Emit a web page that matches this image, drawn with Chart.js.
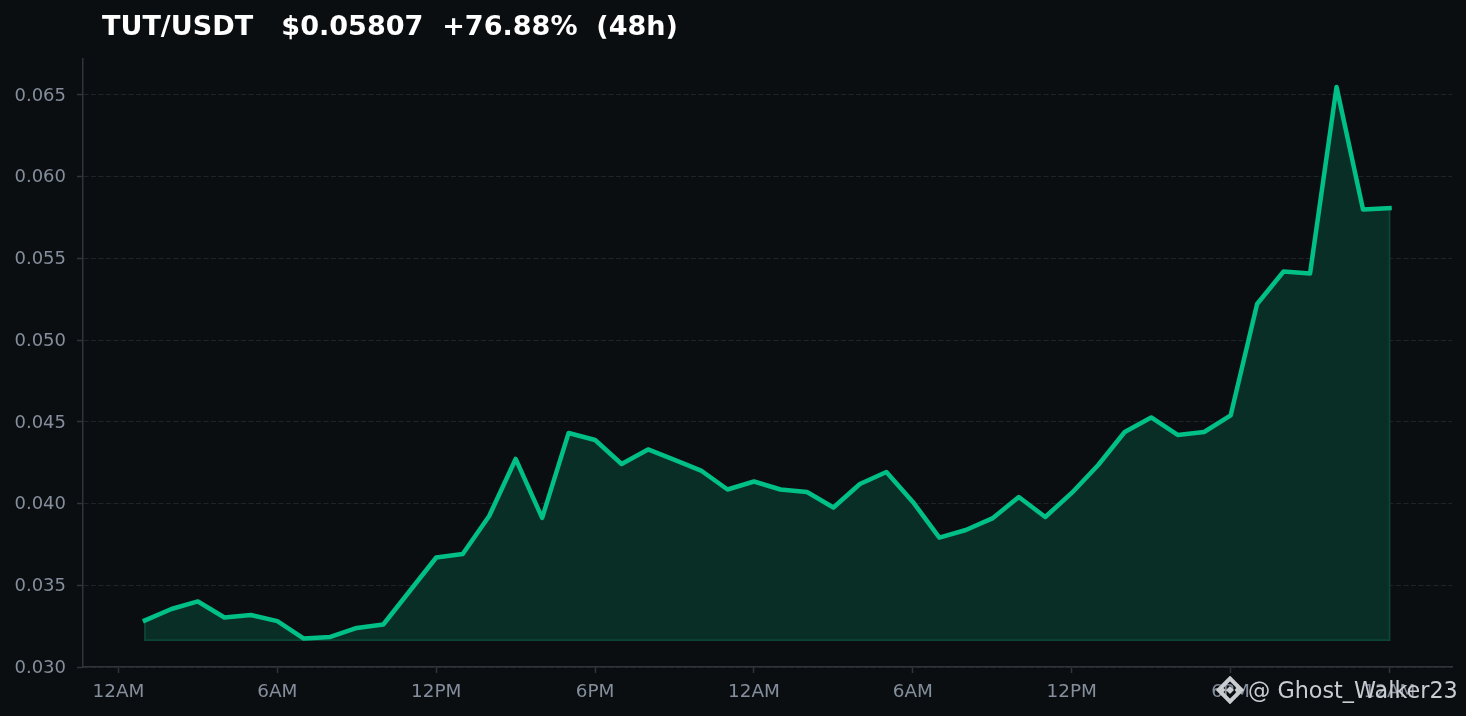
<!DOCTYPE html>
<html>
<head>
<meta charset="utf-8">
<script src="https://cdn.jsdelivr.net/npm/chart.js@4/dist/chart.umd.min.js"></script>
<style>
  html, body { margin: 0; padding: 0; background: #0b0e11; overflow: hidden; }
  #wrap { position: relative; width: 1466px; height: 716px; }
  #title { position: absolute; left: 102px; top: 9px; color: #fff; white-space: pre;
           font: bold 27.05px "DejaVu Sans"; line-height: 34px; }
  #mark { position: absolute; left: 1216px; top: 675px; color: #c9cdd1; white-space: pre;
          font: 22.3px "DejaVu Sans"; line-height: 30px; display: flex; align-items: center; }
  #mark svg { margin-right: 4px; }
</style>
</head>
<body>
<div id="wrap">
  <canvas id="chart" width="1466" height="716"></canvas>
  <div id="title">TUT/USDT   $0.05807  +76.88%  (48h)</div>
  <div id="mark"><svg width="28" height="28" viewBox="0 0 28 28"><path d="M14 2.5 L25.5 14 L14 25.5 L2.5 14 Z" fill="none" stroke="#c9cdd1" stroke-width="4"/><g fill="#c9cdd1"><path d="M14 10 L18 14 L14 18 L10 14 Z"/><path d="M7 11.5 L9.5 14 L7 16.5 L4.5 14 Z"/><path d="M21 11.5 L23.5 14 L21 16.5 L18.5 14 Z"/></g></svg>@ Ghost_Walker23</div>
</div>
<script>
const hours = [1,2,3,4,5,6,7,8,9,10,11,12,13,14,15,16,17,18,19,20,21,22,23,24,
  25,26,27,28,29,30,31,32,33,34,35,36,37,38,39,40,41,42,43,44,45,46,47,48]
const prices = [.03285,.03355,.03401,.03303,.03318,.03281,.03174,.03184,.03239,.0326,.03465,.0367,
  .03691,.03924,.04273,.03912,.04432,.04389,.04242,.04331,.04267,.04202,.04086,.04135,
  .04086,.04071,.03976,.0412,.04193,.0401,.03792,.03838,.03909,.0404,.03918,.04065,
  .04236,.04438,.04527,.0442,.04438,.04539,.05221,.0542,.05408,.06549,.05799,.05807]
const xTickLabels = ['12AM','6AM','12PM','6PM','12AM','6AM','12PM','6PM','12AM']
const floorPrice = 0.03165

const line = hours.map((h, i) => ({x: h, y: prices[i]}))
const first = line[0], last = line[line.length - 1]
// edge of the filled area: left side, bottom, right side
const edge = [first, {x: first.x, y: floorPrice}, {x: last.x, y: floorPrice}, last]

const ctx = document.getElementById('chart').getContext('2d')
new Chart(ctx, {
  type: 'line',
  data: {
    datasets: [{
      // area only
      data: line,
      borderWidth: 0,
      backgroundColor: '#092e26',
      fill: {value: floorPrice},
      pointRadius: 0,
      tension: 0,
      order: 2
    }, {
      data: edge,
      borderColor: '#0d4535',
      borderWidth: 1.8,
      pointRadius: 0,
      tension: 0,
      fill: false,
      order: 1
    }, {
      data: line,
      borderColor: '#00c087',
      borderWidth: 4.5,
      borderCapStyle: 'square',
      borderJoinStyle: 'round',
      fill: false,
      pointRadius: 0,
      tension: 0,
      clip: false,
      order: 0
    }]
  },
  options: {
    responsive: false,
    devicePixelRatio: 1,
    animation: false,
    layout: {padding: {top: 59, right: 14, left: 0, bottom: 0}},
    plugins: {legend: {display: false}, tooltip: {enabled: false}},
    scales: {
      x: {
        type: 'linear',
        min: -1.34,
        max: 50.36,
        afterFit: s => { s.height = 49 },
        border: {color: '#30353b', width: 1.5},
        grid: {drawOnChartArea: false, tickColor: '#30353b', tickLength: 6, tickWidth: 1.5},
        ticks: {
          stepSize: 6,
          includeBounds: false,
          autoSkip: false,
          maxRotation: 0,
          padding: 8,
          color: '#848e9c',
          font: {family: 'DejaVu Sans', size: 18.4},
          callback: v => xTickLabels[v / 6]
        }
      },
      y: {
        min: 0.03,
        max: 0.0672,
        afterFit: s => { s.width = 83 },
        border: {color: '#30353b', width: 1.5, dash: [5, 2.5]},
        grid: {color: '#1e2429', tickColor: '#30353b', tickLength: 6, tickWidth: 1.5, lineWidth: 1},
        ticks: {
          stepSize: 0.005,
          includeBounds: false,
          padding: 11,
          labelOffset: 1,
          color: '#848e9c',
          font: {family: 'DejaVu Sans', size: 18},
          callback: v => v.toFixed(3)
        }
      }
    }
  }
})
</script>
</body>
</html>
